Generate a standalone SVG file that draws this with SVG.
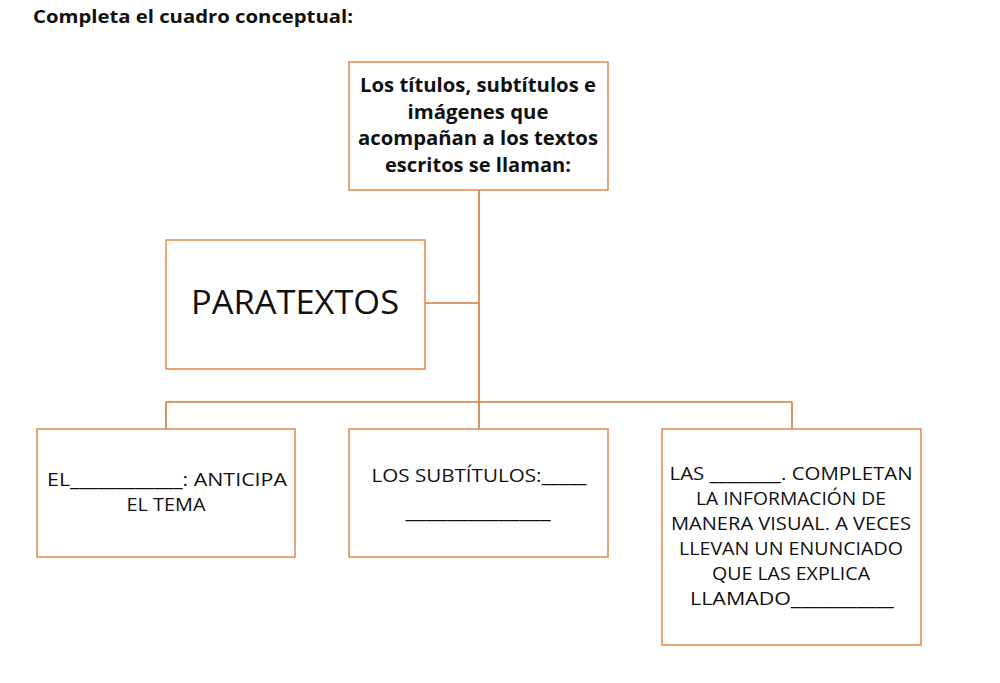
<svg xmlns="http://www.w3.org/2000/svg" width="1000" height="683" viewBox="0 0 1000 683">
<style>
.box{fill:#ffffff;stroke:#e08a4e;stroke-width:1.5}
.con{fill:none;stroke:#cf7b3e;stroke-width:1.6}
text{font-family:"Open Sans","Liberation Sans",sans-serif;fill:#111}
.b{font-weight:bold;font-size:19px;text-anchor:middle}
.n{font-size:18px;text-anchor:middle}
</style>
<rect width="1000" height="683" fill="#ffffff"/>
<text id="title" x="33" y="23" style="font-weight:bold;font-size:17px" textLength="320" lengthAdjust="spacingAndGlyphs">Completa el cuadro conceptual:</text>
<g id="connectors">
<path class="con" d="M479,190 V402 M425,303 H479 M166,402 H792 M166,402 V429 M479,402 V429 M792,402 V429"/>
</g>
<g id="top">
<rect class="box" x="349" y="62" width="259" height="128"/>
<text class="b" x="478" y="92" textLength="236" lengthAdjust="spacingAndGlyphs">Los títulos, subtítulos e</text>
<text class="b" x="478" y="119" textLength="141" lengthAdjust="spacingAndGlyphs">imágenes que</text>
<text class="b" x="478" y="145" textLength="240" lengthAdjust="spacingAndGlyphs">acompañan a los textos</text>
<text class="b" x="478" y="172" textLength="186" lengthAdjust="spacingAndGlyphs">escritos se llaman:</text>
</g>
<g id="paratextos">
<rect class="box" x="166" y="240" width="259" height="129"/>
<text x="295" y="314" style="font-size:33px;text-anchor:middle" textLength="208" lengthAdjust="spacingAndGlyphs">PARATEXTOS</text>
</g>
<g id="box1">
<rect class="box" x="37" y="429" width="258" height="128"/>
<text class="n" x="167" y="486" textLength="240" lengthAdjust="spacingAndGlyphs">EL____________: ANTICIPA</text>
<text class="n" x="166" y="511" textLength="79" lengthAdjust="spacingAndGlyphs">EL TEMA</text>
</g>
<g id="box2">
<rect class="box" x="349" y="429" width="259" height="128"/>
<text class="n" x="479" y="482" textLength="215" lengthAdjust="spacingAndGlyphs">LOS SUBTÍTULOS:_____</text>
<text class="n" x="478" y="518" textLength="145" lengthAdjust="spacingAndGlyphs">______________</text>
</g>
<g id="box3">
<rect class="box" x="662" y="429" width="259" height="216"/>
<text class="n" x="791" y="480" textLength="243" lengthAdjust="spacingAndGlyphs">LAS ________. COMPLETAN</text>
<text class="n" x="791" y="505" textLength="190" lengthAdjust="spacingAndGlyphs">LA INFORMACIÓN DE</text>
<text class="n" x="791" y="530" textLength="240" lengthAdjust="spacingAndGlyphs">MANERA VISUAL. A VECES</text>
<text class="n" x="791" y="555" textLength="224" lengthAdjust="spacingAndGlyphs">LLEVAN UN ENUNCIADO</text>
<text class="n" x="791" y="580" textLength="158" lengthAdjust="spacingAndGlyphs">QUE LAS EXPLICA</text>
<text class="n" x="792" y="605" textLength="204" lengthAdjust="spacingAndGlyphs">LLAMADO___________</text>
</g>
</svg>
